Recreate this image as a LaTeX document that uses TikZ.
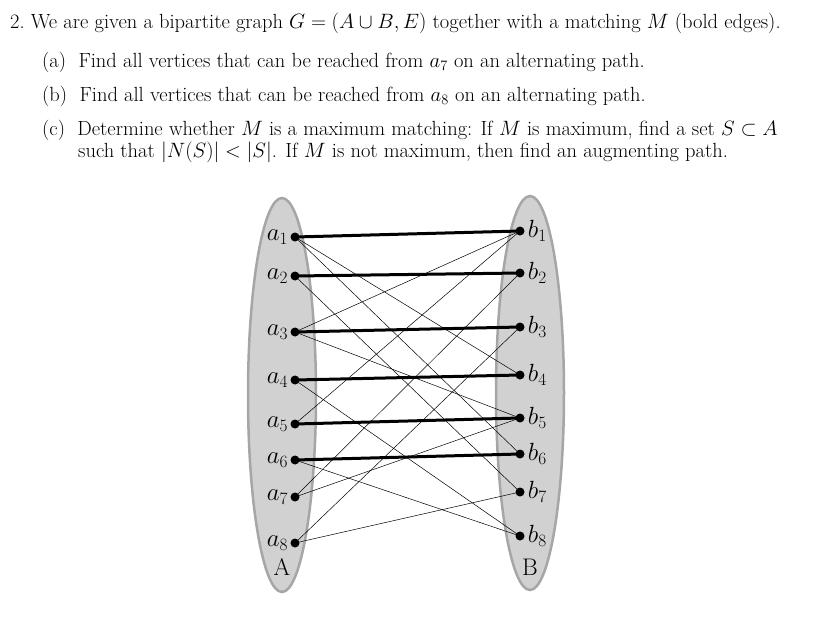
\documentclass[tikz,border=0pt]{standalone}
\usepackage{amsmath}
\begin{document}
\begin{tikzpicture}[x=1pt,y=-1pt,
  dot/.style={circle,fill=black,inner sep=0pt,minimum size=9pt},
  thin/.style={line width=0.5pt},
  bold/.style={line width=3pt},
  txt/.style={anchor=west,inner sep=0pt,font=\fontsize{20.5}{24}\selectfont},
  lab/.style={font=\fontsize{24}{28}\selectfont,inner sep=1pt}]
\useasboundingbox (0,0) rectangle (831,625);
\fill[black!18,draw=black!35,line width=2.5pt] (282,395) ellipse [x radius=34, y radius=197];
\fill[black!18,draw=black!35,line width=2.5pt] (530,393) ellipse [x radius=34, y radius=197];
\node[txt] (t0) at (10,23) {2.\ We are given a bipartite graph $G=(A\cup B,E)$ together with a matching $M$ (bold edges).};
\node[txt] (t1) at (42,62) {(a)\ \ Find all vertices that can be reached from $a_7$ on an alternating path.};
\node[txt] (t2) at (42,96) {(b)\ \ Find all vertices that can be reached from $a_8$ on an alternating path.};
\node[txt] (t3) at (42,130) {(c)\ \ Determine whether $M$ is a maximum matching: If $M$ is maximum, find a set $S\subset A$};
\node[txt] (t4) at (78,152) {such that $|N(S)|<|S|$. If $M$ is not maximum, then find an augmenting path.};
\foreach \i/\y in {1/237,2/276,3/332,4/380,5/424,6/460,7/497,8/543}{
  \node[dot] (a\i) at (295,\y) {};
  \node[lab,anchor=east] at ([xshift=-1pt]a\i.west) {$a_{\i}$};
}
\foreach \i/\y in {1/231,2/273,3/327,4/375,5/418,6/454,7/492,8/536}{
  \node[dot] (b\i) at (520,\y) {};
  \node[lab,anchor=west] at ([xshift=2pt]b\i.east) {$b_{\i}$};
}
\node[lab] (LA) at (282,567) {A};
\node[lab] (LB) at (530,567) {B};
\foreach \i in {1,...,6}{\draw[bold] (a\i.center) -- (b\i.center);}
\foreach \u/\v in {1/4,1/6,2/7,3/5,4/8,6/8,7/5,8/7,3/1,5/1,7/2,8/3}{
  \draw[thin] (a\u.center) -- (b\v.center);}
\end{tikzpicture}
\end{document}
